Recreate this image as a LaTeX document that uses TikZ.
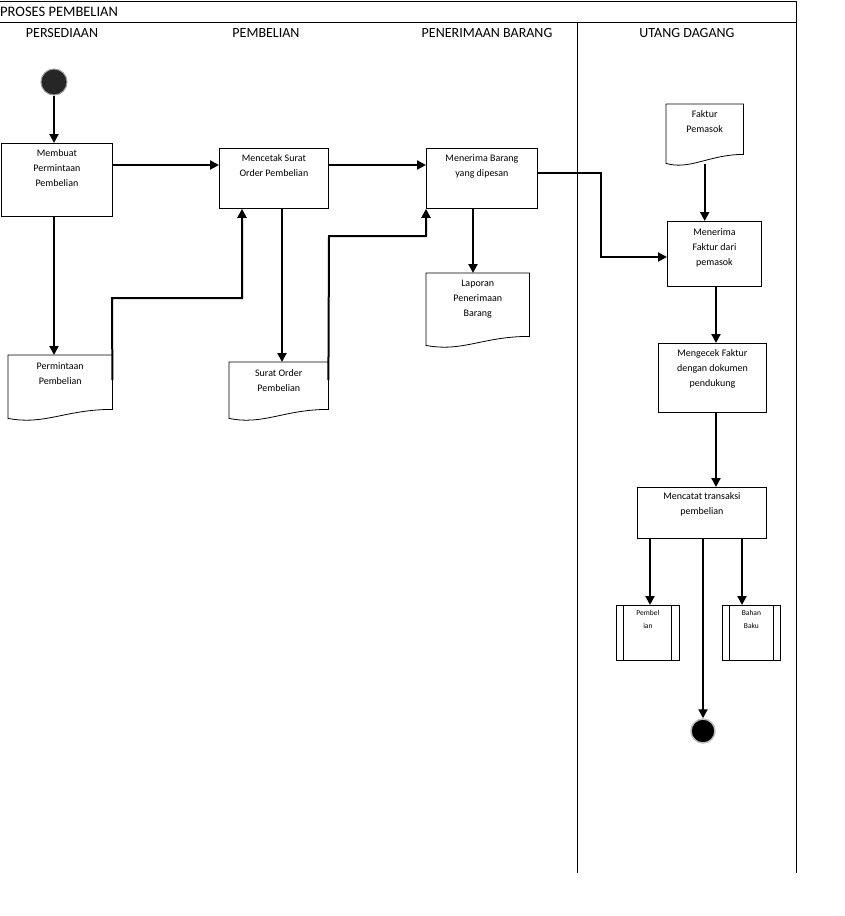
\documentclass[tikz,border=0pt]{standalone}
\usepackage{fontspec}
\setmainfont{Carlito}
\usetikzlibrary{arrows.meta,calc}
\newcommand{\docout}[1]{\draw[line width=0.8pt] (#1.north west) -- (#1.north east) -- ($(#1.south east)+(0,-12)$)
  .. controls ($(#1.south)+(5,-12)$) and ($(#1.south)+(-15,4)$) .. ($(#1.south west)+(0,-3)$) -- cycle;}
\begin{document}
\begin{tikzpicture}[x=1pt,y=-1pt,
  box/.style={draw,line width=0.8pt,inner sep=0pt,anchor=north west},
  doc/.style={inner sep=0pt,anchor=north west},
  txt/.style={align=center,font=\fontsize{10}{15}\selectfont,inner sep=0pt,anchor=north},
  ar/.style={line width=2pt,-{Triangle[length=9pt,width=9pt]}},
  lane/.style={font=\fontsize{14}{15}\selectfont}]
\useasboundingbox (0,0) rectangle (844,916);
\draw[line width=0.8pt] (0,1) -- (796,1) -- (796,873);
\draw[line width=0.8pt] (0,22) -- (796,22);
\draw[line width=0.8pt] (577,22) -- (577,873);
\node[anchor=west,font=\fontsize{14.5}{15}\selectfont,inner sep=0pt] (title) at (0,12) {PROSES PEMBELIAN};
\node[lane] (l1) at (62,33) {PERSEDIAAN};
\node[lane] (l2) at (266,33) {PEMBELIAN};
\node[lane] (l3) at (487,33) {PENERIMAAN BARANG};
\node[lane] (l4) at (687,33) {UTANG DAGANG};
% start / end
\node[circle,fill=black!85,draw=black!40,line width=1pt,minimum size=26pt,inner sep=0pt] (start) at (54,82) {};
\node[circle,fill=black,draw=black!25,line width=1.5pt,minimum size=24pt,inner sep=0pt] (end) at (703,731) {};
% boxes
\node[box,minimum width=111pt,minimum height=73pt] (b1) at (1,143) {};
\node[txt] (t1) at ($(b1.north)+(0,6)$) {Membuat\\Permintaan\\Pembelian};
\node[box,minimum width=109pt,minimum height=60pt] (b2) at (219,148) {};
\node[txt] (t2) at ($(b2.north)+(0,6)$) {Mencetak Surat\\Order Pembelian};
\node[box,minimum width=111pt,minimum height=60pt] (b3) at (426,148) {};
\node[txt] (t3) at ($(b3.north)+(0,6)$) {Menerima Barang\\yang dipesan};
\node[box,minimum width=94pt,minimum height=65pt] (b4) at (667,221) {};
\node[txt] (t4) at ($(b4.north)+(0,7)$) {Menerima\\Faktur dari\\pemasok};
\node[box,minimum width=108pt,minimum height=69pt] (b5) at (658,343) {};
\node[txt] (t5) at ($(b5.north)+(0,6)$) {Mengecek Faktur\\dengan dokumen\\pendukung};
\node[box,minimum width=129pt,minimum height=51pt] (b6) at (637,487) {};
\node[txt] (t6) at ($(b6.north)+(0,5)$) {Mencatat transaksi\\pembelian};
% documents
\node[doc,minimum width=104pt,minimum height=66pt] (d1) at (8,355) {};
\docout{d1}
\node[txt] (t7) at ($(d1.north)+(0,7)$) {Permintaan\\Pembelian};
\node[doc,minimum width=99pt,minimum height=59pt] (d2) at (229,362) {};
\docout{d2}
\node[txt] (t8) at ($(d2.north)+(0,7)$) {Surat Order\\Pembelian};
\node[doc,minimum width=103pt,minimum height=75pt] (d3) at (426,273) {};
\docout{d3}
\node[txt] (t9) at ($(d3.north)+(0,7)$) {Laporan\\Penerimaan\\Barang};
\node[doc,minimum width=77pt,minimum height=62pt] (d4) at (666,104) {};
\docout{d4}
\node[txt] (t10) at ($(d4.north)+(0,6)$) {Faktur\\Pemasok};
% stores
\node[box,minimum width=63pt,minimum height=55pt] (s1) at (616,605) {};
\node[txt,font=\fontsize{7.5}{13}\selectfont] (t11) at ($(s1.north)+(0,5)$) {Pembel\\ian};
\draw[line width=0.8pt] ($(s1.north west)+(7,0)$) -- ($(s1.south west)+(7,0)$) ($(s1.north east)+(-8,0)$) -- ($(s1.south east)+(-8,0)$);
\node[box,minimum width=58pt,minimum height=55pt] (s2) at (722,605) {};
\node[txt,font=\fontsize{7.5}{13}\selectfont] (t12) at ($(s2.north)+(0,5)$) {Bahan\\Baku};
\draw[line width=0.8pt] ($(s2.north west)+(7,0)$) -- ($(s2.south west)+(7,0)$) ($(s2.north east)+(-7,0)$) -- ($(s2.south east)+(-7,0)$);
% connectors
\draw[ar] (start) -- (b1.north -| start);
\draw[ar] (b1.east |- 0,165) -- (b2.west |- 0,165);
\draw[ar] (b2.east |- 0,165) -- (b3.west |- 0,165);
\draw[ar] (b1.south -| start) -- (d1.north -| start);
\draw[ar] (d1.east |- 0,380) -- (112,298) -- (242,298) -- (b2.south -| 242,0);
\draw[ar] (b2.south -| 282,0) -- (d2.north -| 282,0);
\draw[ar] (d2.east |- 0,380) -- (329,236) -- (426,236) -- (b3.south west);
\draw[ar] (b3.south -| 473,0) -- (d3.north -| 473,0);
\draw[ar] (b3.east |- 0,173) -- (601,173) -- (601,257) -- (b4.west |- 0,257);
\draw[ar] ($(d4.south)+(0,-2)$) -- (b4.north -| d4.south);
\draw[ar] (b4.south -| 716,0) -- (b5.north -| 716,0);
\draw[ar] (b5.south -| 716,0) -- (b6.north -| 716,0);
\draw[ar] (b6.south -| 650,0) -- (s1.north -| 650,0);
\draw[ar] (b6.south -| 742,0) -- (s2.north -| 742,0);
\draw[ar] (b6.south -| end) -- (end);
\end{tikzpicture}
\end{document}
